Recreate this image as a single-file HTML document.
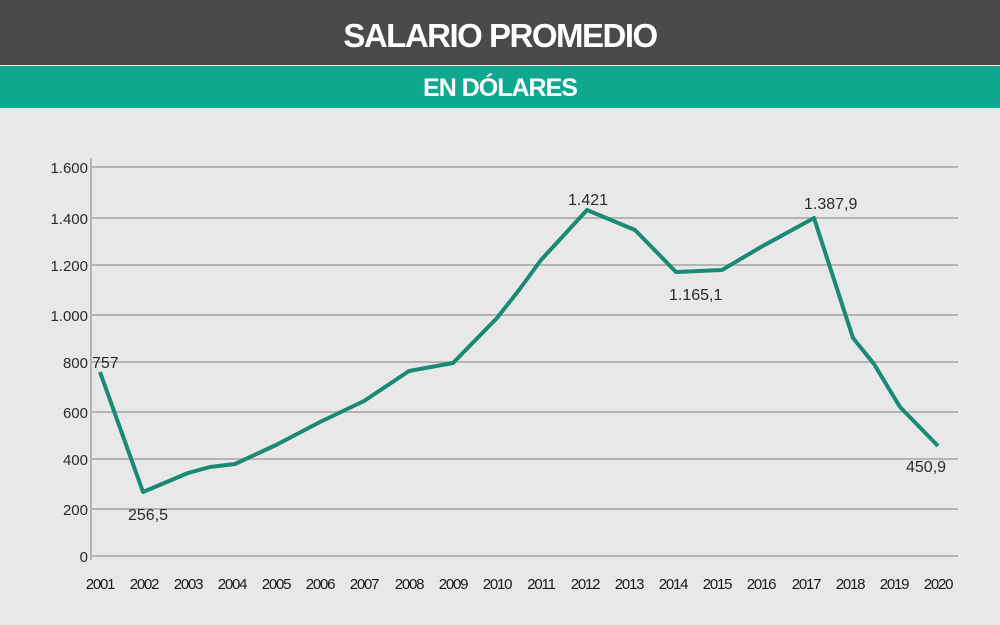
<!DOCTYPE html>
<html><head><meta charset="utf-8"><style>
html,body{margin:0;padding:0;width:1000px;height:625px;overflow:hidden;background:#e8e8e8;font-family:"Liberation Sans",sans-serif}
.top{position:absolute;left:0;top:0;width:1000px;height:65px;background:#4a4a4a;color:#fff;font-weight:bold;font-size:33px;text-align:center;line-height:72px;letter-spacing:-1.5px}
.sub{position:absolute;left:0;top:66px;width:1000px;height:42px;background:#0fa88f;color:#fff;font-weight:bold;font-size:25px;text-align:center;line-height:44px;letter-spacing:-1px}
</style></head><body>
<div class="top">SALARIO PROMEDIO</div>
<div class="sub">EN DÓLARES</div>
<svg width="1000" height="625" style="position:absolute;left:0;top:0" font-family="Liberation Sans, sans-serif">
<g stroke="#b4b4b4" stroke-width="2">
<line x1="91" y1="167" x2="958" y2="167"/>
<line x1="91" y1="218" x2="958" y2="218"/>
<line x1="91" y1="265" x2="958" y2="265"/>
<line x1="91" y1="315" x2="958" y2="315"/>
<line x1="91" y1="362" x2="958" y2="362"/>
<line x1="91" y1="412" x2="958" y2="412"/>
<line x1="91" y1="459" x2="958" y2="459"/>
<line x1="91" y1="509" x2="958" y2="509"/>
<line x1="91" y1="556" x2="958" y2="556"/>
<line x1="91" y1="158" x2="91" y2="560"/>
</g>
<g font-size="15" fill="#2a2a2a" text-anchor="end">
<text x="88" y="173">1.600</text><text x="88" y="224">1.400</text><text x="88" y="271">1.200</text>
<text x="88" y="321">1.000</text><text x="88" y="368">800</text><text x="88" y="418">600</text>
<text x="88" y="465">400</text><text x="88" y="515">200</text><text x="88" y="562">0</text>
</g>
<g font-size="15" fill="#1a1a1a" text-anchor="middle" letter-spacing="-1.2">
<text x="100" y="589">2001</text><text x="144" y="589">2002</text><text x="188" y="589">2003</text><text x="232" y="589">2004</text><text x="276" y="589">2005</text><text x="320" y="589">2006</text><text x="364" y="589">2007</text><text x="409" y="589">2008</text><text x="453" y="589">2009</text><text x="497" y="589">2010</text><text x="541" y="589">2011</text><text x="585" y="589">2012</text><text x="629" y="589">2013</text><text x="673" y="589">2014</text><text x="717" y="589">2015</text><text x="761" y="589">2016</text><text x="806" y="589">2017</text><text x="850" y="589">2018</text><text x="894" y="589">2019</text><text x="938" y="589">2020</text>
</g>
<polyline fill="none" stroke="#1a8a72" stroke-width="4" stroke-linejoin="round" points="100,372 143,492 188,473 210,467 235,464 276,445 320,422 364,401 409,371 453,363 497,318 519,290 541,260 587,210 635,230 676,272 722,270 761,247 814,218 853,338 874,364 900,407 938,446"/>
<g font-size="16" fill="#2a2a2a">
<text x="92" y="368">757</text>
<text x="128" y="520">256,5</text>
<text x="568" y="205">1.421</text>
<text x="669" y="300">1.165,1</text>
<text x="804" y="209">1.387,9</text>
<text x="906" y="472">450,9</text>
</g>
</svg>
</body></html>
